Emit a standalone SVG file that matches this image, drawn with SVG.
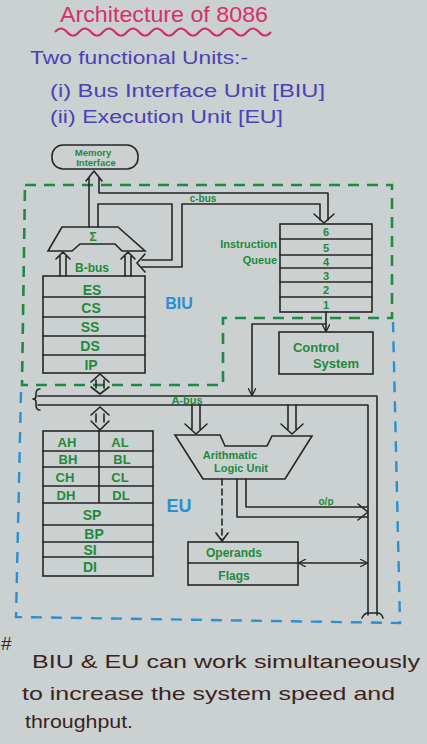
<svg xmlns="http://www.w3.org/2000/svg" width="427" height="744" viewBox="0 0 427 744">
<defs>
<style>
.ln{fill:none;stroke:#262626;stroke-width:1.6;stroke-linejoin:round;stroke-linecap:round}
.box{fill:none;stroke:#262626;stroke-width:1.6}
.g{fill:#1f8a3c;font-family:"Liberation Sans",Arial,sans-serif;font-weight:bold;text-anchor:middle}
.bl{fill:#2a8ed3;font-family:"Liberation Sans",Arial,sans-serif;font-weight:bold;text-anchor:middle}
.pu{fill:#4a42b6;font-family:"Liberation Sans",Arial,sans-serif}
.note{fill:#3a2420;font-family:"Liberation Sans",Arial,sans-serif;font-size:19px}
.gd{fill:none;stroke:#1f8a45;stroke-width:2.6;stroke-dasharray:11 8}
.bd{fill:none;stroke:#2a90d0;stroke-width:2.4;stroke-dasharray:11 9}
</style>
<marker id="ah" viewBox="0 0 10 10" refX="9" refY="5" markerWidth="8" markerHeight="8" orient="auto-start-reverse" markerUnits="userSpaceOnUse">
<path d="M0,0 L10,5 L0,10" fill="none" stroke="#262626" stroke-width="1.6"/>
</marker>
</defs>
<rect width="427" height="744" fill="#cad1d0"/>

<g id="title">
<text x="60" y="22" font-size="22" fill="#d6306b" font-family="Liberation Sans,Arial,sans-serif" textLength="208" lengthAdjust="spacingAndGlyphs">Architecture of 8086</text>
<path d="M55,32 q6,-7 12,0 t12,0 t12,0 t12,0 t12,0 t12,0 t12,0 t12,0 t12,0 t12,0 t12,0 t12,0 t12,0 t12,0 t12,0 t12,0 t12,0 t12,0" fill="none" stroke="#d6306b" stroke-width="2.2"/>
</g>

<g id="intro">
<text class="pu" x="30" y="64" font-size="18" textLength="218" lengthAdjust="spacingAndGlyphs">Two functional Units:-</text>
<text class="pu" x="50" y="97" font-size="18" textLength="275" lengthAdjust="spacingAndGlyphs">(i) Bus Interface Unit [BIU]</text>
<text class="pu" x="50" y="123" font-size="18" textLength="233" lengthAdjust="spacingAndGlyphs">(ii) Execution Unit [EU]</text>
</g>

<g id="biu-boundary">
<path class="gd" d="M25,185 H392 V318 H223 V385 H22 Z"/>
<text class="bl" x="179" y="309" font-size="16">BIU</text>
</g>

<g id="eu-boundary">
<path class="bd" d="M21,392 L16,617 L400,623 L393,322"/>
<text class="bl" x="179" y="512" font-size="18">EU</text>
</g>

<g id="memory-interface">
<rect class="box" x="52" y="145" width="86" height="24" rx="11"/>
<text class="g" x="93" y="156" font-size="9.5">Memory</text>
<text class="g" x="96" y="166" font-size="9.5">Interface</text>
</g>

<g id="sigma">
<path class="box" d="M62,227 H118 L145,251 H122 L115,244 H80 L72,251 H48 Z"/>
<text class="g" x="93" y="241" font-size="12">Σ</text>
</g>

<g id="segment-registers">
<rect class="box" x="43" y="276" width="102" height="97"/>
<path class="ln" d="M43,297 H145 M43,317 H145 M43,336 H145 M43,355 H145"/>
<text class="g" x="92" y="295" font-size="14">ES</text>
<text class="g" x="91" y="313" font-size="14">CS</text>
<text class="g" x="90" y="332" font-size="14">SS</text>
<text class="g" x="90" y="351" font-size="14">DS</text>
<text class="g" x="91" y="370" font-size="14">IP</text>
</g>

<g id="instruction-queue">
<rect class="box" x="280" y="224" width="92" height="88"/>
<path class="ln" d="M280,239 H372 M280,255 H372 M280,268 H372 M280,282 H372 M280,297 H372"/>
<text class="g" x="326" y="236" font-size="11">6</text>
<text class="g" x="326" y="252" font-size="11">5</text>
<text class="g" x="326" y="266" font-size="11">4</text>
<text class="g" x="326" y="280" font-size="11">3</text>
<text class="g" x="326" y="294" font-size="11">2</text>
<text class="g" x="326" y="309" font-size="11">1</text>
<text class="g" x="277" y="248" font-size="11" style="text-anchor:end">Instruction</text>
<text class="g" x="277" y="264" font-size="11" style="text-anchor:end">Queue</text>
</g>

<g id="control-system">
<rect class="box" x="279" y="332" width="94" height="42"/>
<text class="g" x="316" y="352" font-size="13">Control</text>
<text class="g" x="336" y="368" font-size="13">System</text>
</g>

<g id="general-registers">
<rect class="box" x="43" y="431" width="110" height="145"/>
<path class="ln" d="M99,431 V503 M43,451 H153 M43,467 H153 M43,486 H153 M43,503 H153 M43,525 H153 M43,542 H153 M43,557 H153"/>
<text class="g" x="67" y="447" font-size="13">AH</text>
<text class="g" x="120" y="447" font-size="13">AL</text>
<text class="g" x="68" y="464" font-size="13">BH</text>
<text class="g" x="122" y="464" font-size="13">BL</text>
<text class="g" x="65" y="482" font-size="13">CH</text>
<text class="g" x="120" y="482" font-size="13">CL</text>
<text class="g" x="66" y="500" font-size="13">DH</text>
<text class="g" x="121" y="500" font-size="13">DL</text>
<text class="g" x="92" y="520" font-size="14">SP</text>
<text class="g" x="94" y="539" font-size="14">BP</text>
<text class="g" x="90" y="555" font-size="14">SI</text>
<text class="g" x="90" y="572" font-size="14">DI</text>
</g>

<g id="alu">
<path class="box" d="M175,435 H220 L225,446 H267 L272,436 H312 L285,479 H203 Z"/>
<text class="g" x="230" y="459" font-size="11">Arithmatic</text>
<text class="g" x="241" y="472" font-size="11">Logic Unit</text>
</g>

<g id="operands-flags">
<rect class="box" x="188" y="542" width="110" height="43"/>
<path class="ln" d="M188,563 H298"/>
<text class="g" x="234" y="557" font-size="12">Operands</text>
<text class="g" x="234" y="580" font-size="12">Flags</text>
</g>

<g id="connectors">
<path class="ln" d="M89,227 V178"/>
<path class="ln" d="M99,178 V193 H328 V220"/>
<path class="ln" d="M86,181 L94,171 L102,181"/>
<path class="ln" d="M98,227 V204 H172 V260 H142"/>
<path class="ln" d="M142,267 H182 V204 H320 V220"/>
<path class="ln" d="M314,214 L324,223 L334,214"/>
<path class="ln" d="M145,254 L137,263 L145,272"/>
<text class="g" x="203" y="202" font-size="10">c-bus</text>
<path class="ln" d="M60,276 V256 M66,276 V256 M56,259 L63,252 L70,259"/>
<path class="ln" d="M125,276 V256 M131,276 V256 M121,259 L128,252 L135,259"/>
<text class="g" x="92" y="272" font-size="12">B-bus</text>
<path class="ln" d="M326,312 V331" marker-end="url(#ah)"/>
<path class="ln" d="M326,324 H252 V395" marker-end="url(#ah)"/>
<path class="ln" d="M38,396 H377 V615"/>
<path class="ln" d="M38,405 H368 V615"/>
<path class="ln" d="M40,389 Q36,389 36,394 V396 Q36,399 33,399 Q36,399 36,402 V405 Q36,410 40,410"/>
<path class="ln" d="M362,618 C364,614 366,613 368,613 H377 C379,613 382,614 383,618"/>
<text class="g" x="187" y="404" font-size="11">A-bus</text>
<path class="ln" d="M96,380 V388 M104,380 V388 M91,382 L100,374 L109,382 M91,387 L100,394 L109,387"/>
<path class="ln" d="M96,414 V422 M104,414 V422 M91,415 L100,407 L109,415 M91,421 L100,430 L109,421"/>
<path class="ln" d="M192,405 V429 M200,405 V429 M185,424 L196,434 L207,424"/>
<path class="ln" d="M288,405 V429 M296,405 V429 M281,424 L292,434 L303,424"/>
<path class="ln" d="M222,479 V540" stroke-dasharray="6 4"/>
<path class="ln" d="M216,533 L222,541 L228,533"/>
<path class="ln" d="M246,479 V507 H367"/>
<path class="ln" d="M237,479 V517 H367"/>
<path class="ln" d="M358,504 L368,512 L358,520"/>
<text class="g" x="326" y="505" font-size="10">o/p</text>
<path class="ln" d="M299,563 H367" marker-start="url(#ah)" marker-end="url(#ah)"/>
</g>

<g id="note">
<text class="note" x="1" y="650" font-size="15">#</text>
<text class="note" x="32" y="668" textLength="388" lengthAdjust="spacingAndGlyphs">BIU &amp; EU can work simultaneously</text>
<text class="note" x="22" y="700" textLength="373" lengthAdjust="spacingAndGlyphs">to increase the system speed and</text>
<text class="note" x="25" y="728" textLength="108" lengthAdjust="spacingAndGlyphs">throughput.</text>
</g>
</svg>
